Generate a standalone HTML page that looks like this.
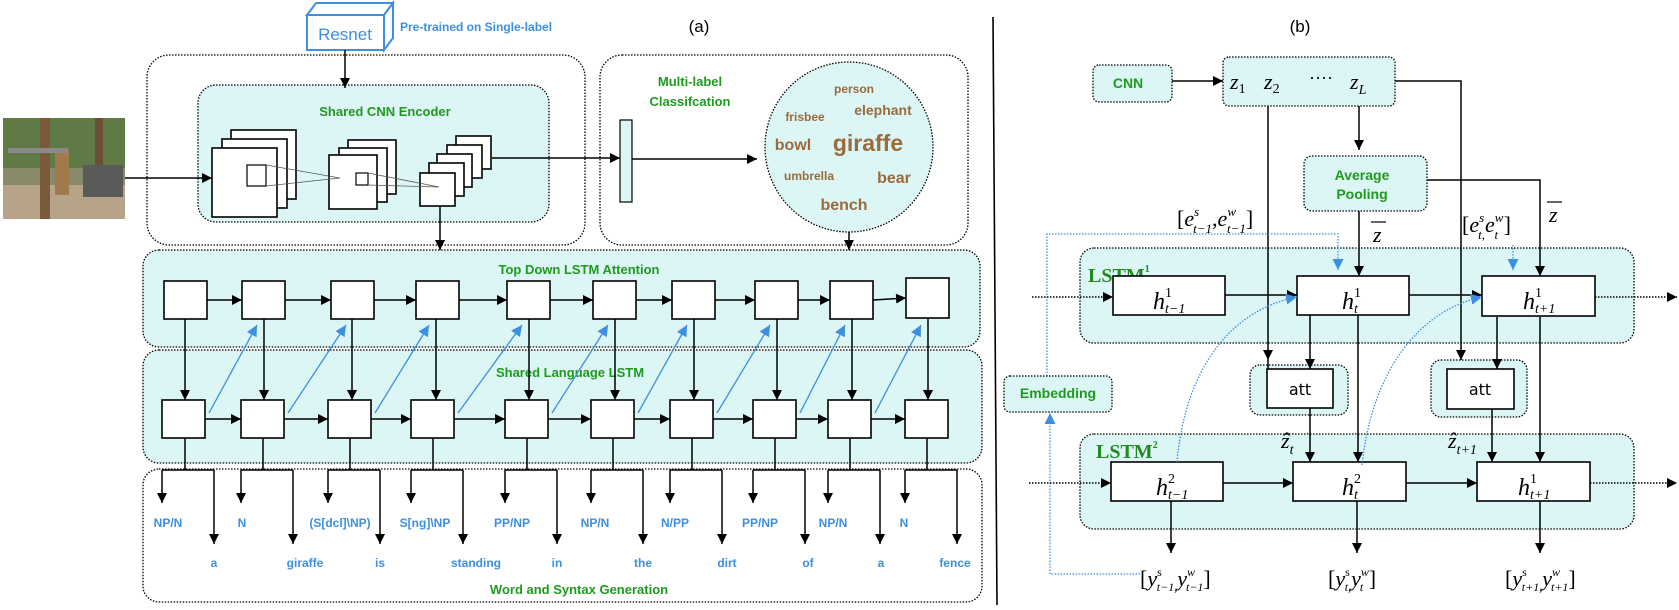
<!DOCTYPE html>
<html><head><meta charset="utf-8"><style>
html,body{margin:0;padding:0;background:#fff;}
svg{display:block;}
.g{fill:#1f9a1f;font-family:"Liberation Sans",sans-serif;font-weight:bold;}
.bl{fill:#3d8fe0;font-family:"Liberation Sans",sans-serif;font-weight:bold;font-size:12px;}
.br{fill:#9a6b3c;font-family:"Liberation Sans",sans-serif;font-weight:bold;}
.m{font-family:"Liberation Serif",serif;font-style:italic;fill:#000;}
.dot{fill:none;stroke:#000;stroke-width:1.3;stroke-dasharray:1.5 1.5;}
.teal{fill:#dcf5f5;}
.ln{stroke:#000;stroke-width:1.5;fill:none;}
.bx{fill:#fff;stroke:#000;stroke-width:1.6;}
.blu{stroke:#3d8fe0;stroke-width:1.3;fill:none;}
.bdot{stroke:#3d8fe0;stroke-width:1.3;fill:none;stroke-dasharray:1.5 1.5;}
</style></head><body>
<svg width="1679" height="610" viewBox="0 0 1679 610" xmlns="http://www.w3.org/2000/svg">
<defs>
<marker id="a" viewBox="0 0 10 10" refX="10" refY="5" markerWidth="10" markerHeight="10" markerUnits="userSpaceOnUse" orient="auto"><path d="M0,0L10,5L0,10z" fill="#000"/></marker>
<marker id="b" viewBox="0 0 10 10" refX="10" refY="5" markerWidth="11" markerHeight="11" markerUnits="userSpaceOnUse" orient="auto"><path d="M0,0L10,5L0,10z" fill="#3d8fe0"/></marker>
</defs>

<!-- ================= PART A ================= -->
<rect x="3" y="118" width="122" height="101" fill="#8a8a6a"/>
<rect x="3" y="118" width="122" height="50" fill="#5f7a45"/>
<rect x="3" y="185" width="122" height="34" fill="#b7a488"/>
<rect x="40" y="118" width="10" height="101" fill="#7a5a3a"/>
<rect x="95" y="118" width="8" height="70" fill="#6b5035"/>
<rect x="83" y="165" width="40" height="32" fill="#5a5a5a"/>
<rect x="55" y="150" width="14" height="45" fill="#a07a4a"/>
<rect x="8" y="148" width="60" height="5" fill="#8a8a8a"/>

<polygon points="307,15 316,3 393,3 384,15" fill="#fff" stroke="#3d8fe0" stroke-width="2"/>
<polygon points="384,15 393,3 393,38 384,50" fill="#fff" stroke="#3d8fe0" stroke-width="2"/>
<rect x="307" y="15" width="77" height="35" fill="#fff" stroke="#3d8fe0" stroke-width="2"/>
<text x="345" y="40" text-anchor="middle" font-family="Liberation Sans,sans-serif" font-size="17" fill="#3d8fe0">Resnet</text>
<text x="400" y="31" class="bl" font-size="13">Pre-trained on Single-label</text>
<text x="699" y="32" text-anchor="middle" font-family="Liberation Sans,sans-serif" font-size="17">(a)</text>

<rect x="147" y="55" width="438" height="190" rx="22" class="dot"/>
<rect x="198" y="85" width="351" height="137" rx="18" class="teal"/>
<rect x="198" y="85" width="351" height="137" rx="18" class="dot"/>
<text x="385" y="116" text-anchor="middle" class="g" font-size="13">Shared CNN Encoder</text>
<line x1="345" y1="50" x2="345" y2="88" class="ln" marker-end="url(#a)"/>

<!-- feature maps -->
<rect x="231" y="130" width="65" height="69" class="bx" stroke-width="1.2"/>
<rect x="222" y="139" width="65" height="69" class="bx" stroke-width="1.2"/>
<rect x="212" y="148" width="65" height="69" class="bx" stroke-width="1.2"/>
<rect x="247" y="165" width="19" height="21" fill="none" stroke="#000" stroke-width="1.2"/>
<rect x="348" y="140" width="48" height="54" class="bx" stroke-width="1.2"/>
<rect x="339" y="148" width="48" height="54" class="bx" stroke-width="1.2"/>
<rect x="329" y="155" width="48" height="54" class="bx" stroke-width="1.2"/>
<line x1="266" y1="165" x2="340" y2="178" stroke="#555" stroke-width="0.8"/>
<line x1="266" y1="186" x2="340" y2="178" stroke="#555" stroke-width="0.8"/>
<rect x="356" y="173" width="12" height="12" fill="none" stroke="#000" stroke-width="1.2"/>
<rect x="456" y="136" width="35" height="33" class="bx" stroke-width="1.2"/>
<rect x="447" y="145" width="35" height="33" class="bx" stroke-width="1.2"/>
<rect x="437" y="154" width="35" height="33" class="bx" stroke-width="1.2"/>
<rect x="429" y="163" width="35" height="33" class="bx" stroke-width="1.2"/>
<rect x="420" y="173" width="35" height="33" class="bx" stroke-width="1.2"/>
<line x1="368" y1="173" x2="439" y2="187" stroke="#555" stroke-width="0.8"/>
<line x1="368" y1="185" x2="439" y2="187" stroke="#555" stroke-width="0.8"/>
<line x1="125" y1="178" x2="212" y2="178" class="ln" marker-end="url(#a)"/>
<line x1="492" y1="158" x2="620" y2="158" class="ln" marker-end="url(#a)"/>
<line x1="440" y1="206" x2="440" y2="250" class="ln" marker-end="url(#a)"/>

<rect x="600" y="55" width="368" height="190" rx="22" class="dot"/>
<text x="690" y="86" text-anchor="middle" class="g" font-size="13">Multi-label</text>
<text x="690" y="106" text-anchor="middle" class="g" font-size="13">Classifcation</text>
<rect x="620" y="120" width="12" height="82" fill="#dcf5f5" stroke="#000" stroke-width="1.2"/>
<line x1="632" y1="159" x2="757" y2="159" class="ln" marker-end="url(#a)"/>
<ellipse cx="849" cy="147" rx="84" ry="85" class="teal"/>
<ellipse cx="849" cy="147" rx="84" ry="85" class="dot"/>
<text x="854" y="93" text-anchor="middle" class="br" font-size="12">person</text>
<text x="883" y="115" text-anchor="middle" class="br" font-size="14">elephant</text>
<text x="805" y="121" text-anchor="middle" class="br" font-size="12">frisbee</text>
<text x="793" y="150" text-anchor="middle" class="br" font-size="16">bowl</text>
<text x="868" y="151" text-anchor="middle" class="br" font-size="23">giraffe</text>
<text x="809" y="180" text-anchor="middle" class="br" font-size="12">umbrella</text>
<text x="894" y="183" text-anchor="middle" class="br" font-size="16">bear</text>
<text x="844" y="210" text-anchor="middle" class="br" font-size="16">bench</text>
<line x1="849" y1="232" x2="849" y2="250" class="ln" marker-end="url(#a)"/>

<rect x="143" y="250" width="837" height="97" rx="16" class="teal"/>
<rect x="143" y="250" width="837" height="97" rx="16" class="dot"/>
<rect x="143" y="350" width="839" height="113" rx="16" class="teal"/>
<rect x="143" y="350" width="839" height="113" rx="16" class="dot"/>
<rect x="143" y="469" width="839" height="133" rx="16" class="dot"/>
<text x="579" y="274" text-anchor="middle" class="g" font-size="13">Top Down LSTM Attention</text>
<text x="570" y="377" text-anchor="middle" class="g" font-size="13">Shared Language LSTM</text>
<text x="579" y="594" text-anchor="middle" class="g" font-size="13">Word and Syntax Generation</text>

<g class="bx">
<rect x="164" y="281" width="43" height="38"/><rect x="242" y="281" width="43" height="38"/>
<rect x="331" y="281" width="43" height="38"/><rect x="416" y="281" width="43" height="38"/>
<rect x="507" y="281" width="43" height="38"/><rect x="593" y="281" width="43" height="38"/>
<rect x="672" y="281" width="43" height="38"/><rect x="755" y="281" width="43" height="38"/>
<rect x="830" y="281" width="43" height="38"/><rect x="906" y="278" width="43" height="40"/>
</g>
<g class="ln" marker-end="url(#a)">
<line x1="207" y1="300" x2="242" y2="300"/><line x1="285" y1="300" x2="331" y2="300"/>
<line x1="374" y1="300" x2="416" y2="300"/><line x1="459" y1="300" x2="507" y2="300"/>
<line x1="550" y1="300" x2="593" y2="300"/><line x1="636" y1="300" x2="672" y2="300"/>
<line x1="715" y1="300" x2="755" y2="300"/><line x1="798" y1="300" x2="830" y2="300"/>
<line x1="873" y1="300" x2="906" y2="298"/>
</g>
<g class="bx">
<rect x="162" y="400" width="43" height="38"/><rect x="241" y="400" width="43" height="38"/>
<rect x="328" y="400" width="43" height="38"/><rect x="411" y="400" width="43" height="38"/>
<rect x="505" y="400" width="43" height="38"/><rect x="591" y="400" width="43" height="38"/>
<rect x="670" y="400" width="43" height="38"/><rect x="753" y="400" width="43" height="38"/>
<rect x="828" y="400" width="43" height="38"/><rect x="905" y="400" width="43" height="38"/>
</g>
<g class="ln" marker-end="url(#a)">
<line x1="205" y1="419" x2="241" y2="419"/><line x1="284" y1="419" x2="328" y2="419"/>
<line x1="371" y1="419" x2="411" y2="419"/><line x1="454" y1="419" x2="505" y2="419"/>
<line x1="548" y1="419" x2="591" y2="419"/><line x1="634" y1="419" x2="670" y2="419"/>
<line x1="713" y1="419" x2="753" y2="419"/><line x1="796" y1="419" x2="828" y2="419"/>
<line x1="871" y1="419" x2="905" y2="419"/>
<line x1="185" y1="319" x2="185" y2="400"/><line x1="264" y1="319" x2="264" y2="400"/>
<line x1="352" y1="319" x2="352" y2="400"/><line x1="436" y1="319" x2="436" y2="400"/>
<line x1="529" y1="319" x2="529" y2="400"/><line x1="615" y1="319" x2="615" y2="400"/>
<line x1="694" y1="319" x2="694" y2="400"/><line x1="777" y1="319" x2="777" y2="400"/>
<line x1="852" y1="319" x2="852" y2="400"/><line x1="928" y1="318" x2="928" y2="400"/>
</g>
<g class="blu" marker-end="url(#b)">
<line x1="209" y1="413" x2="257" y2="325"/><line x1="288" y1="413" x2="346" y2="325"/>
<line x1="375" y1="413" x2="429" y2="325"/><line x1="458" y1="413" x2="522" y2="325"/>
<line x1="552" y1="413" x2="608" y2="325"/><line x1="638" y1="413" x2="687" y2="325"/>
<line x1="717" y1="413" x2="770" y2="325"/><line x1="800" y1="413" x2="845" y2="325"/>
<line x1="875" y1="413" x2="921" y2="325"/>
</g>
<g class="ln">
<path d="M185,438V470M162,470H214"/><path d="M263,438V470M241,470H293"/>
<path d="M350,438V470M328,470H380"/><path d="M433,438V470M411,470H463"/>
<path d="M527,438V470M505,470H557"/><path d="M613,438V470M591,470H643"/>
<path d="M692,438V470M670,470H722"/><path d="M775,438V470M753,470H805"/>
<path d="M850,438V470M828,470H880"/><path d="M927,438V470M905,470H957"/>
</g>
<g class="ln" marker-end="url(#a)">
<line x1="162" y1="470" x2="162" y2="503"/><line x1="214" y1="470" x2="214" y2="544"/>
<line x1="241" y1="470" x2="241" y2="503"/><line x1="293" y1="470" x2="293" y2="544"/>
<line x1="328" y1="470" x2="328" y2="503"/><line x1="380" y1="470" x2="380" y2="544"/>
<line x1="411" y1="470" x2="411" y2="503"/><line x1="463" y1="470" x2="463" y2="544"/>
<line x1="505" y1="470" x2="505" y2="503"/><line x1="557" y1="470" x2="557" y2="544"/>
<line x1="591" y1="470" x2="591" y2="503"/><line x1="643" y1="470" x2="643" y2="544"/>
<line x1="670" y1="470" x2="670" y2="503"/><line x1="722" y1="470" x2="722" y2="544"/>
<line x1="753" y1="470" x2="753" y2="503"/><line x1="805" y1="470" x2="805" y2="544"/>
<line x1="828" y1="470" x2="828" y2="503"/><line x1="880" y1="470" x2="880" y2="544"/>
<line x1="905" y1="470" x2="905" y2="503"/><line x1="957" y1="470" x2="957" y2="544"/>
</g>
<g class="bl" text-anchor="middle">
<text x="168" y="527">NP/N</text><text x="242" y="527">N</text>
<text x="340" y="527">(S[dcl]\NP)</text><text x="425" y="527">S[ng]\NP</text>
<text x="512" y="527">PP/NP</text><text x="595" y="527">NP/N</text>
<text x="675" y="527">N/PP</text><text x="760" y="527">PP/NP</text>
<text x="833" y="527">NP/N</text><text x="904" y="527">N</text>
<text x="214" y="567">a</text><text x="305" y="567">giraffe</text>
<text x="380" y="567">is</text><text x="476" y="567">standing</text>
<text x="557" y="567">in</text><text x="643" y="567">the</text>
<text x="727" y="567">dirt</text><text x="808" y="567">of</text>
<text x="881" y="567">a</text><text x="955" y="567">fence</text>
</g>

<line x1="993" y1="17" x2="997" y2="605" stroke="#000" stroke-width="1.6"/>

<!-- ================= PART B ================= -->
<text x="1300" y="32" text-anchor="middle" font-family="Liberation Sans,sans-serif" font-size="17">(b)</text>
<rect x="1093" y="65" width="79" height="37" rx="6" class="teal"/><rect x="1093" y="65" width="79" height="37" rx="6" class="dot"/>
<text x="1128" y="88" text-anchor="middle" class="g" font-size="14">CNN</text>
<line x1="1172" y1="81" x2="1223" y2="81" class="ln" marker-end="url(#a)"/>
<rect x="1223" y="57" width="172" height="49" rx="6" class="teal"/><rect x="1223" y="57" width="172" height="49" rx="6" class="dot"/>
<text class="m" font-size="22" y="89"><tspan x="1230">z</tspan><tspan font-size="14" font-style="normal" dy="4">1</tspan><tspan x="1264" dy="-4">z</tspan><tspan font-size="14" font-style="normal" dy="4">2</tspan></text>
<text x="1309" y="84" font-size="18" font-family="Liberation Serif,serif">····</text>
<text class="m" font-size="22" y="89"><tspan x="1350">z</tspan><tspan font-size="14" dy="5">L</tspan></text>

<line x1="1359" y1="106" x2="1359" y2="150" class="ln" marker-end="url(#a)"/>
<rect x="1304" y="156" width="123" height="55" rx="8" class="teal"/><rect x="1304" y="156" width="123" height="55" rx="8" class="dot"/>
<text x="1362" y="180" text-anchor="middle" class="g" font-size="14">Average</text>
<text x="1362" y="199" text-anchor="middle" class="g" font-size="14">Pooling</text>

<rect x="1080" y="248" width="554" height="95" rx="14" class="teal"/><rect x="1080" y="248" width="554" height="95" rx="14" class="dot"/>
<text x="1088" y="282" font-family="Liberation Serif,serif" font-weight="bold" font-size="20" fill="#1f8a1f">LSTM<tspan font-size="10" dy="-10">1</tspan></text>
<rect x="1080" y="434" width="554" height="95" rx="14" class="teal"/><rect x="1080" y="434" width="554" height="95" rx="14" class="dot"/>
<text x="1096" y="458" font-family="Liberation Serif,serif" font-weight="bold" font-size="20" fill="#1f8a1f">LSTM<tspan font-size="10" dy="-10">2</tspan></text>

<path d="M1268,106V360" class="ln" marker-end="url(#a)"/>
<path d="M1395,81H1461V360" class="ln" marker-end="url(#a)"/>
<path d="M1359,211V276" class="ln" marker-end="url(#a)"/>
<path d="M1427,180H1540V276" class="ln" marker-end="url(#a)"/>
<text x="1373" y="242" class="m" font-size="22">z</text><line x1="1371" y1="222" x2="1386" y2="222" stroke="#000" stroke-width="1.2"/>
<text x="1549" y="222" class="m" font-size="22">z</text><line x1="1547" y1="202" x2="1562" y2="202" stroke="#000" stroke-width="1.2"/>

<text class="m" font-size="22" y="226"><tspan x="1177" font-style="normal">[</tspan><tspan>e</tspan><tspan font-size="13" dy="-10">s</tspan><tspan font-size="13" dx="-6" dy="17">t−1</tspan><tspan dy="-7" font-style="normal">,</tspan><tspan>e</tspan><tspan font-size="13" dy="-10">w</tspan><tspan font-size="13" dx="-9" dy="17">t−1</tspan><tspan dy="-7" font-style="normal">]</tspan></text>
<text class="m" font-size="22" y="232"><tspan x="1462" font-style="normal">[</tspan><tspan>e</tspan><tspan font-size="13" dy="-10">s</tspan><tspan font-size="13" dx="-6" dy="17">t,</tspan><tspan dy="-7">e</tspan><tspan font-size="13" dy="-10">w</tspan><tspan font-size="13" dx="-9" dy="17">t</tspan><tspan dy="-7" font-style="normal"> ]</tspan></text>

<path d="M1140,574H1050V413" class="bdot" marker-end="url(#b)"/>
<path d="M1047,376V234H1338V270" class="bdot" marker-end="url(#b)"/>
<path d="M1513,245V270" class="bdot" marker-end="url(#b)"/>
<rect x="1004" y="376" width="108" height="36" rx="6" class="teal"/><rect x="1004" y="376" width="108" height="36" rx="6" class="dot"/>
<text x="1058" y="398" text-anchor="middle" class="g" font-size="14">Embedding</text>

<line x1="1032" y1="297" x2="1113" y2="297" class="ln" stroke-dasharray="1.5 1.5" marker-end="url(#a)"/>
<rect x="1113" y="276" width="112" height="39" class="bx"/>
<rect x="1297" y="276" width="112" height="39" class="bx"/>
<rect x="1482" y="276" width="113" height="40" class="bx"/>
<line x1="1225" y1="295" x2="1297" y2="295" class="ln" marker-end="url(#a)"/>
<line x1="1409" y1="295" x2="1482" y2="295" class="ln" marker-end="url(#a)"/>
<line x1="1595" y1="297" x2="1677" y2="297" class="ln" stroke-dasharray="1.5 1.5" marker-end="url(#a)"/>
<text class="m" font-size="24" y="309"><tspan x="1153">h</tspan><tspan font-size="14" font-style="normal" dy="-12">1</tspan><tspan font-size="14" dx="-7" dy="16">t−1</tspan></text>
<text class="m" font-size="24" y="309"><tspan x="1342">h</tspan><tspan font-size="14" font-style="normal" dy="-12">1</tspan><tspan font-size="14" dx="-7" dy="16">t</tspan></text>
<text class="m" font-size="24" y="309"><tspan x="1523">h</tspan><tspan font-size="14" font-style="normal" dy="-12">1</tspan><tspan font-size="14" dx="-7" dy="16">t+1</tspan></text>

<rect x="1250" y="365" width="98" height="50" rx="10" class="teal"/><rect x="1250" y="365" width="98" height="50" rx="10" class="dot"/>
<rect x="1267" y="369" width="66" height="39" class="bx"/>
<text x="1300" y="395" text-anchor="middle" font-family="DejaVu Sans,sans-serif" font-size="16">att</text>
<rect x="1431" y="360" width="96" height="57" rx="10" class="teal"/><rect x="1431" y="360" width="96" height="57" rx="10" class="dot"/>
<rect x="1447" y="369" width="67" height="40" class="bx"/>
<text x="1480" y="395" text-anchor="middle" font-family="DejaVu Sans,sans-serif" font-size="16">att</text>
<line x1="1310" y1="315" x2="1310" y2="369" class="ln" marker-end="url(#a)"/>
<line x1="1497" y1="317" x2="1497" y2="369" class="ln" marker-end="url(#a)"/>
<line x1="1268" y1="360" x2="1268" y2="369" class="ln"/>
<line x1="1310" y1="408" x2="1310" y2="462" class="ln" marker-end="url(#a)"/>
<line x1="1492" y1="409" x2="1492" y2="462" class="ln" marker-end="url(#a)"/>
<line x1="1358" y1="315" x2="1358" y2="462" class="ln" marker-end="url(#a)"/>
<line x1="1540" y1="317" x2="1540" y2="462" class="ln" marker-end="url(#a)"/>
<text class="m" font-size="22" y="448"><tspan x="1281">ẑ</tspan><tspan font-size="14" dy="6">t</tspan></text>
<text class="m" font-size="22" y="448"><tspan x="1448">ẑ</tspan><tspan font-size="14" dy="6">t+1</tspan></text>

<line x1="1029" y1="483" x2="1111" y2="483" class="ln" stroke-dasharray="1.5 1.5" marker-end="url(#a)"/>
<rect x="1111" y="462" width="112" height="39" class="bx"/>
<rect x="1293" y="462" width="113" height="39" class="bx"/>
<rect x="1477" y="462" width="113" height="39" class="bx"/>
<line x1="1223" y1="483" x2="1293" y2="483" class="ln" marker-end="url(#a)"/>
<line x1="1406" y1="483" x2="1477" y2="483" class="ln" marker-end="url(#a)"/>
<line x1="1590" y1="483" x2="1677" y2="483" class="ln" stroke-dasharray="1.5 1.5" marker-end="url(#a)"/>
<text class="m" font-size="24" y="495"><tspan x="1156">h</tspan><tspan font-size="14" font-style="normal" dy="-12">2</tspan><tspan font-size="14" dx="-7" dy="16">t−1</tspan></text>
<text class="m" font-size="24" y="495"><tspan x="1342">h</tspan><tspan font-size="14" font-style="normal" dy="-12">2</tspan><tspan font-size="14" dx="-7" dy="16">t</tspan></text>
<text class="m" font-size="24" y="495"><tspan x="1518">h</tspan><tspan font-size="14" font-style="normal" dy="-12">1</tspan><tspan font-size="14" dx="-7" dy="16">t+1</tspan></text>

<path d="M1177,462 C1185,370 1230,310 1297,297" class="bdot" marker-end="url(#b)"/>
<path d="M1362,465 C1372,370 1420,310 1482,297" class="bdot" marker-end="url(#b)"/>

<line x1="1171" y1="501" x2="1171" y2="553" class="ln" marker-end="url(#a)"/>
<line x1="1357" y1="501" x2="1357" y2="553" class="ln" marker-end="url(#a)"/>
<line x1="1540" y1="501" x2="1540" y2="553" class="ln" marker-end="url(#a)"/>
<text class="m" font-size="22" y="586"><tspan x="1140" font-style="normal">[</tspan><tspan>y</tspan><tspan font-size="12" font-style="normal" dy="-10">s</tspan><tspan font-size="12" dx="-5" dy="15">t−1,</tspan><tspan dy="-5">y</tspan><tspan font-size="12" dy="-10">w</tspan><tspan font-size="12" dx="-9" dy="15">t−1</tspan><tspan dy="-5" font-style="normal">]</tspan></text>
<text class="m" font-size="22" y="586"><tspan x="1328" font-style="normal">[</tspan><tspan>y</tspan><tspan font-size="12" font-style="normal" dy="-10">s</tspan><tspan font-size="12" dx="-5" dy="15">t,</tspan><tspan dy="-5">y</tspan><tspan font-size="12" dy="-10">w</tspan><tspan font-size="12" dx="-9" dy="15">t</tspan><tspan dy="-5" font-style="normal"> ]</tspan></text>
<text class="m" font-size="22" y="586"><tspan x="1505" font-style="normal">[</tspan><tspan>y</tspan><tspan font-size="12" font-style="normal" dy="-10">s</tspan><tspan font-size="12" dx="-5" dy="15">t+1,</tspan><tspan dy="-5">y</tspan><tspan font-size="12" dy="-10">w</tspan><tspan font-size="12" dx="-9" dy="15">t+1</tspan><tspan dy="-5" font-style="normal">]</tspan></text>
</svg>
</body></html>
